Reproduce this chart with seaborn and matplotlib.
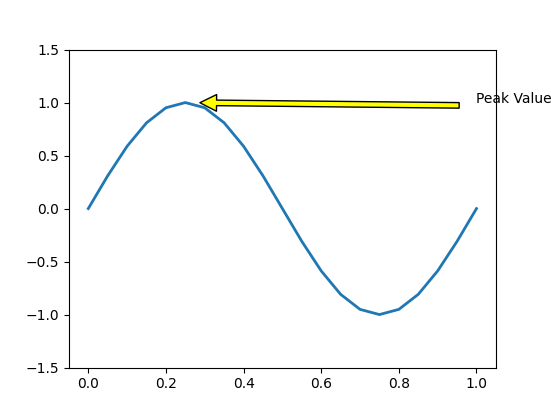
import matplotlib
matplotlib.use("Agg")
import matplotlib.pyplot as plt
import seaborn as sns

x_vals = [0.0, 0.05, 0.1, 0.15, 0.2, 0.25, 0.3, 0.35, 0.4, 0.45, 0.5,
          0.55, 0.6, 0.65, 0.7, 0.75, 0.8, 0.85, 0.9, 0.95, 1.0]
y_vals = [0.0, 0.309, 0.588, 0.809, 0.951, 1.0, 0.951, 0.809, 0.588, 0.309, 0.0,
          -0.309, -0.588, -0.809, -0.951, -1.0, -0.951, -0.809, -0.588, -0.309, 0.0]
label = "Peak Value"

fig, ax = plt.subplots(figsize=(5.51, 4.13), dpi=100)
sns.lineplot(x=x_vals, y=y_vals, ax=ax, linewidth=2)
ax.set_ylim(-1.5, 1.5)
ax.annotate(label, xy=(0.25, 1.0), xytext=(1.0, 1.0),
            arrowprops=dict(facecolor="yellow", shrink=0.05))
fig.savefig("out.png", dpi=100)
